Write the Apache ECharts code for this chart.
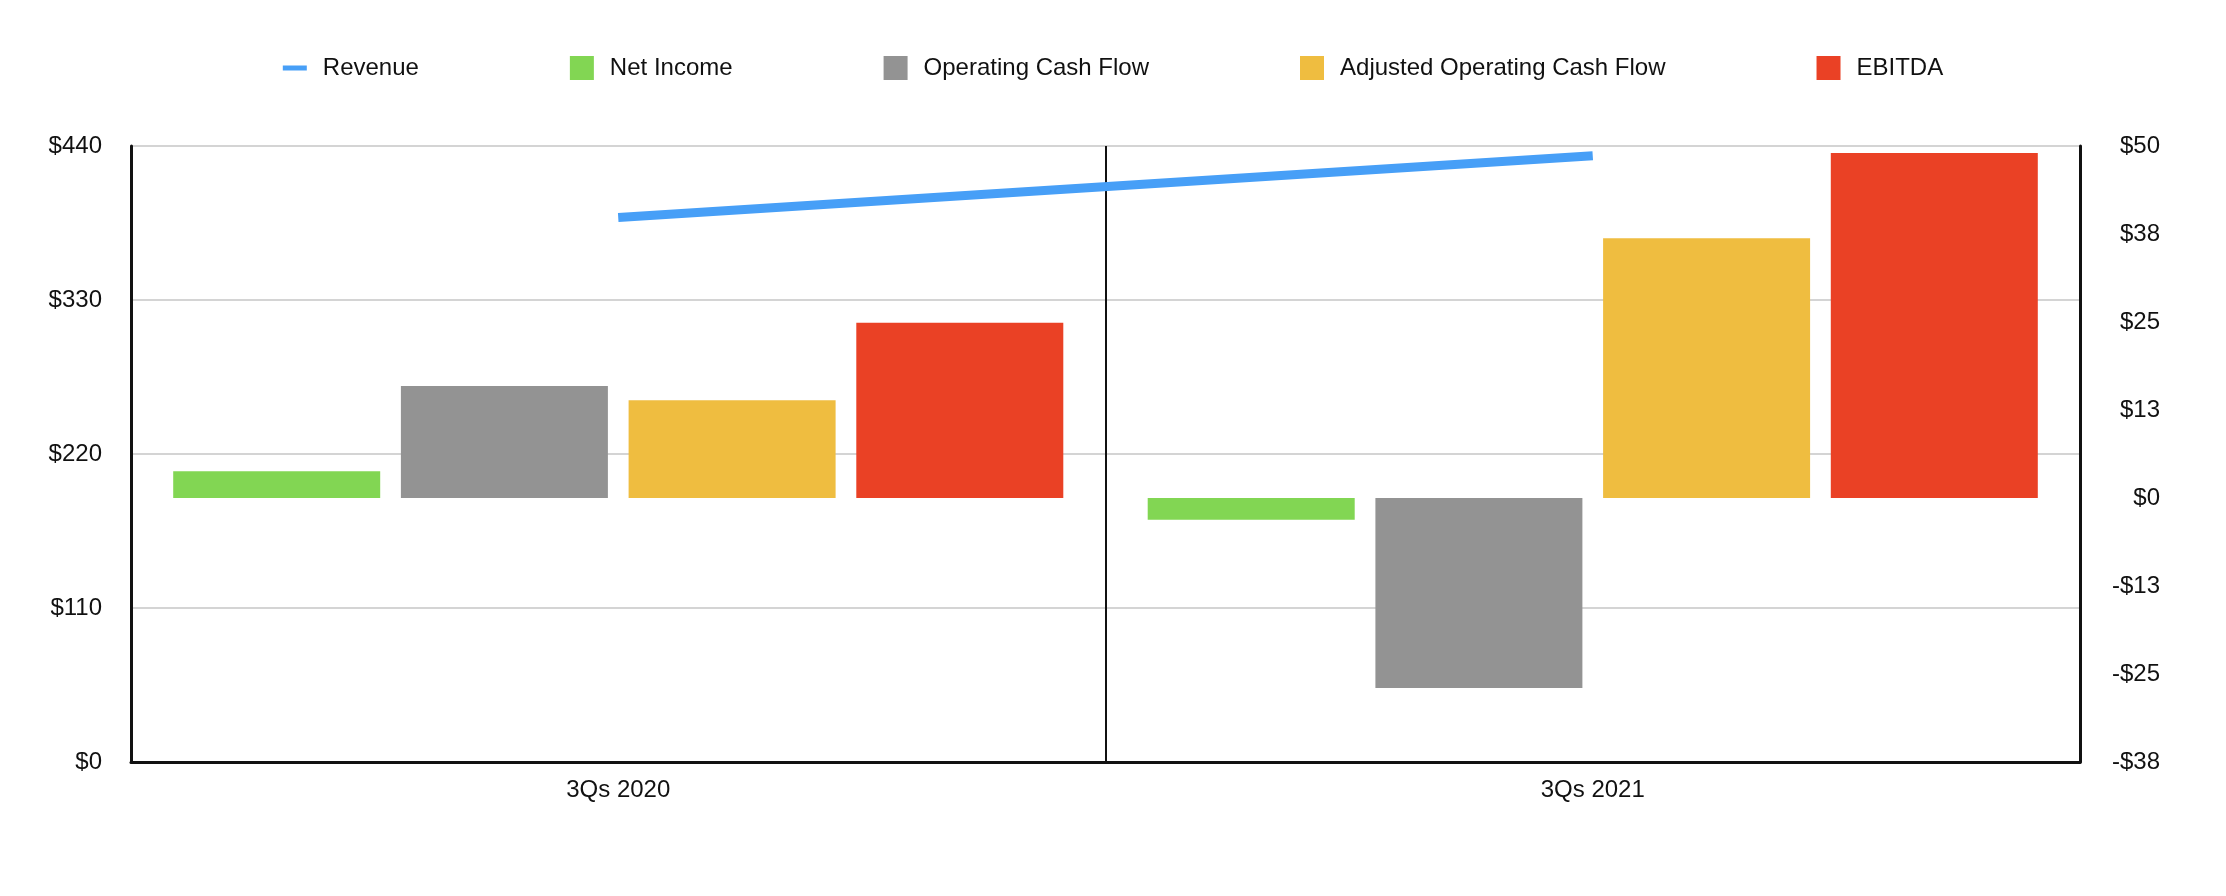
<!DOCTYPE html>
<html><head><meta charset="utf-8">
<script src="https://cdn.jsdelivr.net/npm/echarts@6/dist/echarts.min.js"></script>
<style>html,body{margin:0;padding:0;background:#fff}#c{width:2226px;height:896px}</style>
</head><body><div id="c"></div>
<script>
// Data (USD millions)
const categories = ['3Qs 2020', '3Qs 2021'];
const revenue = [389, 433];
const netIncome = [3.8, -3.1];
const operatingCashFlow = [15.9, -27.0];
const adjustedOperatingCashFlow = [13.9, 36.9];
const ebitda = [24.9, 49.0];
// Axis ticks
const leftAxis = { min: 0, max: 440, interval: 110 };
const rightAxis = { min: -37.5, max: 50, interval: 12.5 };

const FONT = "'Liberation Sans', Helvetica, Arial, sans-serif";
const colors = { revenue: '#479ff7', ni: '#82d653', ocf: '#939393', adj: '#efbd40', ebitda: '#ea4125' };

const chart = echarts.init(document.getElementById('c'), null, { renderer: 'canvas' });
const fmtRight = v => (v < 0 ? '-' : '') + '$' + Math.round(Math.abs(v));

chart.setOption({
  animation: false,
  backgroundColor: '#fff',
  legend: {
    left: 'center', top: 51,
    itemWidth: 24, itemHeight: 24, itemGap: 151,
    symbolKeepAspect: true,
    textStyle: { fontFamily: FONT, fontSize: 24, color: '#111', padding: [0, 0, 0, 11] },
    data: [
      { name: 'Revenue', icon: 'path://M0,0h24v5h-24z', itemStyle: { color: colors.revenue } },
      { name: 'Net Income', icon: 'rect' },
      { name: 'Operating Cash Flow', icon: 'rect' },
      { name: 'Adjusted Operating Cash Flow', icon: 'rect' },
      { name: 'EBITDA', icon: 'rect' }
    ]
  },
  grid: { left: 131, right: 146, top: 146, bottom: 134 },
  xAxis: {
    type: 'category', data: categories, boundaryGap: true,
    axisLine: { lineStyle: { color: '#111', width: 3 } },
    axisTick: { show: false },
    axisLabel: { fontFamily: FONT, fontSize: 24, color: '#111', margin: 16 },
    splitLine: { show: true, lineStyle: { color: '#111', width: 2 } }
  },
  yAxis: [
    {
      type: 'value', min: leftAxis.min, max: leftAxis.max, interval: leftAxis.interval,
      axisLine: { show: true, lineStyle: { color: '#111', width: 3 } },
      axisTick: { show: false },
      axisLabel: { fontFamily: FONT, fontSize: 24, color: '#111', margin: 29, formatter: v => '$' + v },
      splitLine: { show: true, lineStyle: { color: '#c6c6c6', width: 1.5 } }
    },
    {
      type: 'value', min: rightAxis.min, max: rightAxis.max, interval: rightAxis.interval,
      axisLine: { show: true, lineStyle: { color: '#111', width: 3 } },
      axisTick: { show: false },
      axisLabel: { fontFamily: FONT, fontSize: 24, color: '#111', margin: 80, align: 'right', formatter: fmtRight },
      splitLine: { show: false }
    }
  ],
  series: [
    { name: 'Revenue', type: 'line', yAxisIndex: 0, data: revenue, symbol: 'none', showSymbol: false, z: 5,
      lineStyle: { width: 9, color: colors.revenue, cap: 'butt' }, itemStyle: { color: colors.revenue } },
    { name: 'Net Income', type: 'bar', yAxisIndex: 1, data: netIncome, barWidth: 207, barGap: '10%', itemStyle: { color: colors.ni } },
    { name: 'Operating Cash Flow', type: 'bar', yAxisIndex: 1, data: operatingCashFlow, barWidth: 207, barGap: '10%', itemStyle: { color: colors.ocf } },
    { name: 'Adjusted Operating Cash Flow', type: 'bar', yAxisIndex: 1, data: adjustedOperatingCashFlow, barWidth: 207, barGap: '10%', itemStyle: { color: colors.adj } },
    { name: 'EBITDA', type: 'bar', yAxisIndex: 1, data: ebitda, barWidth: 207, barGap: '10%', itemStyle: { color: colors.ebitda } }
  ]
});
</script>
</body></html>
